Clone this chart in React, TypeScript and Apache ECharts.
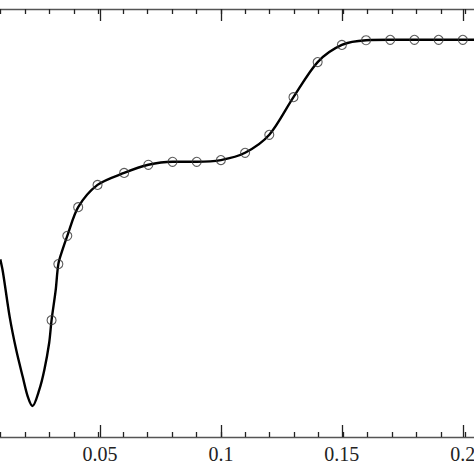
import React, { useEffect, useRef } from "react";
import * as echarts from "echarts";

// Curve (solid line): x values and y values (arbitrary units 0..1)
const curveX = [0.0088, 0.0099, 0.0127, 0.0154, 0.0181, 0.0202, 0.0221, 0.0249, 0.027, 0.029, 0.03, 0.0317, 0.0328, 0.0345, 0.0365, 0.041, 0.049, 0.06, 0.07, 0.08, 0.09, 0.1, 0.11, 0.12, 0.13, 0.14, 0.15, 0.16, 0.17, 0.18, 0.19, 0.2, 0.21];
const curveY = [0.415, 0.385, 0.28, 0.203, 0.14, 0.0935, 0.0724, 0.11, 0.1565, 0.2196, 0.273, 0.343, 0.404, 0.437, 0.47, 0.537, 0.589, 0.617, 0.636, 0.643, 0.643, 0.647, 0.664, 0.706, 0.794, 0.876, 0.916, 0.927, 0.928, 0.928, 0.928, 0.928, 0.928];

// Circle markers
const markerX = [0.03, 0.0328, 0.0365, 0.041, 0.049, 0.06, 0.07, 0.08, 0.09, 0.1, 0.11, 0.12, 0.13, 0.14, 0.15, 0.16, 0.17, 0.18, 0.19, 0.2];
const markerY = [0.273, 0.404, 0.47, 0.537, 0.589, 0.617, 0.636, 0.643, 0.643, 0.647, 0.664, 0.706, 0.794, 0.876, 0.916, 0.927, 0.928, 0.928, 0.928, 0.928];

const X_MIN = 0;
const X_MAX = 0.21;
const MAJOR = 0.05;
const MINOR = 0.01;

export default function App() {
  const ref = useRef<HTMLDivElement>(null);
  useEffect(() => {
    if (!ref.current) return;
    const chart = echarts.init(ref.current, null, { renderer: "svg" });
    const gridPos = { left: 0, right: 0, top: 9, bottom: 37 };
    const fmt = (v: number) => {
      const k = v / MAJOR;
      if (Math.abs(k - Math.round(k)) < 1e-6 && v > 0) return String(+v.toFixed(2));
      return "";
    };
    const axisBase = (gridIndex: number, position: string, interval: number, len: number, labels: boolean, line: boolean) => ({
      type: "value",
      gridIndex,
      position,
      min: X_MIN,
      max: X_MAX,
      interval,
      splitLine: { show: false },
      axisLine: { show: line, onZero: false, lineStyle: { color: "#555", width: 1.3 } },
      axisTick: { show: true, inside: true, length: len, lineStyle: { color: "#222", width: 1.3 } },
      axisLabel: labels
        ? { show: true, formatter: fmt, margin: 7, color: "#222", fontFamily: "Liberation Serif", fontSize: 20 }
        : { show: false },
    });
    const xs = curveX.map((x, i) => [x, curveY[i]]);
    const ms = markerX.map((x, i) => [x, markerY[i]]);
    chart.setOption({
      animation: false,
      backgroundColor: "#fff",
      grid: [gridPos, gridPos],
      xAxis: [
        axisBase(0, "bottom", MAJOR, 12, true, true),
        axisBase(0, "top", MAJOR, 12, false, true),
        axisBase(1, "bottom", MINOR, 5, false, false),
        axisBase(1, "top", MINOR, 5, false, false),
      ],
      yAxis: [
        { type: "value", gridIndex: 0, min: 0, max: 1, show: false },
        { type: "value", gridIndex: 1, min: 0, max: 1, show: false },
      ],
      series: [
        {
          type: "line",
          xAxisIndex: 0,
          yAxisIndex: 0,
          data: xs,
          smooth: 0.3,
          showSymbol: false,
          lineStyle: { color: "#000", width: 2.4 },
          z: 2,
        },
        {
          type: "scatter",
          xAxisIndex: 0,
          yAxisIndex: 0,
          data: ms,
          symbol: "circle",
          symbolSize: 9,
          itemStyle: { color: "rgba(0,0,0,0)", borderColor: "#333", borderWidth: 1.1 },
          z: 3,
        },
      ],
    });
    return () => chart.dispose();
  }, []);
  return (
    <div style={{ position: "absolute", left: 0, top: 0, width: 474, height: 474, overflow: "hidden" }}>
      <div
        ref={ref}
        style={{ position: "absolute", left: -24.33, top: 0, width: 514, height: 474 }}
      />
    </div>
  );
}
